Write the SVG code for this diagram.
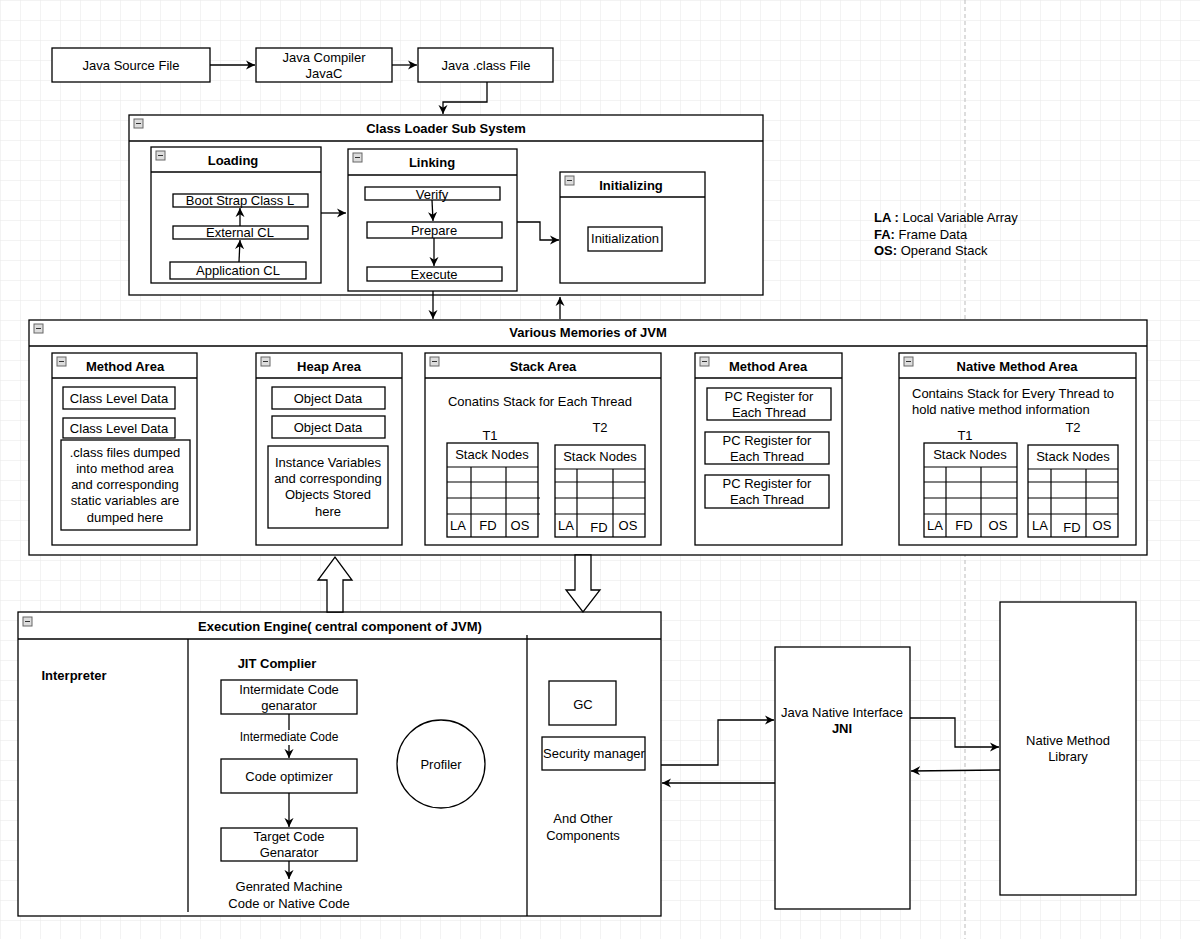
<svg xmlns="http://www.w3.org/2000/svg" width="1200" height="939" viewBox="0 0 1200 939">
<defs>
<pattern id="g" width="20" height="20" patternUnits="userSpaceOnUse"><path d="M20 0H0V20" fill="none" stroke="#e8e8e8" stroke-width="1"/></pattern>
<marker id="a" viewBox="0 0 10 10" refX="10" refY="5" markerWidth="7" markerHeight="7" orient="auto"><path d="M0 0L10 5L0 10L3 5z" fill="#000"/></marker>
<g id="ic"><rect class="i" x="0" y="0" width="9" height="9"/><line x1="2" y1="4.5" x2="7" y2="4.5" stroke="#333"/></g>
</defs>
<style>
text{font-family:"Liberation Sans",Arial,sans-serif;font-size:13px;fill:#000;text-anchor:middle}
.b{font-weight:bold}
.l{text-anchor:start}
rect,circle,ellipse{fill:#fff;stroke:#000;stroke-width:1.3}
rect.bg{fill:url(#g);stroke:none}
rect.i{fill:#ddd;stroke:#666;stroke-width:1}
.c line,.c path,.c polyline{stroke:#000;stroke-width:1.3;fill:none}
.t line{stroke:#000;stroke-width:1.2}
.h{stroke:#000;stroke-width:1.3}
</style>
<rect class="bg" x="0" y="0" width="1200" height="939"/>
<line x1="965" y1="0" x2="965" y2="939" stroke="#bbb" stroke-dasharray="4 3"/>

<g id="src"><rect x="52" y="48" width="158" height="34"/><text x="131" y="70">Java Source File</text></g>
<g id="javac"><rect x="256" y="48" width="136" height="34"/><text x="324" y="62">Java Compiler</text><text x="324" y="78">JavaC</text></g>
<g id="classfile"><rect x="418" y="48" width="135" height="34"/><text x="486" y="70">Java .class File</text></g>

<g id="cls"><rect x="129" y="115" width="634" height="180"/><line class="h" x1="129" y1="141" x2="763" y2="141"/><use href="#ic" x="134" y="119"/><text class="b" x="446" y="133">Class Loader Sub System</text></g>
<g id="loading"><rect x="151" y="147" width="170" height="136"/><line class="h" x1="151" y1="172" x2="321" y2="172"/><use href="#ic" x="156" y="151"/><text class="b" x="233" y="165">Loading</text>
<rect x="173" y="194" width="135" height="13"/><text x="240" y="205">Boot Strap Class L</text>
<rect x="173" y="226" width="135" height="13"/><text x="240" y="237">External CL</text>
<rect x="170" y="262" width="136" height="17"/><text x="238" y="275">Application CL</text></g>
<g id="linking"><rect x="348" y="149" width="169" height="142"/><line class="h" x1="348" y1="175" x2="517" y2="175"/><use href="#ic" x="353" y="153"/><text class="b" x="432" y="167">Linking</text>
<rect x="365" y="187" width="135" height="13"/><text x="432" y="199">Verify</text>
<rect x="367" y="222" width="135" height="16"/><text x="434" y="235">Prepare</text>
<rect x="367" y="267" width="135" height="14"/><text x="434" y="279">Execute</text></g>
<g id="init"><rect x="560" y="172" width="145" height="111"/><line class="h" x1="560" y1="197" x2="705" y2="197"/><use href="#ic" x="565" y="176"/><text class="b" x="631" y="190">Initializing</text>
<rect x="588" y="227" width="74" height="24"/><text x="625" y="243">Initialization</text></g>

<g id="legend"><text class="l" x="874" y="222"><tspan class="b">LA :</tspan> Local Variable Array</text><text class="l" x="874" y="239"><tspan class="b">FA:</tspan> Frame Data</text><text class="l" x="874" y="255"><tspan class="b">OS:</tspan> Operand Stack</text></g>

<g id="mem"><rect x="29" y="320" width="1118" height="235"/><line class="h" x1="29" y1="346" x2="1147" y2="346"/><use href="#ic" x="34" y="324"/><text class="b" x="588" y="337">Various Memories of JVM</text></g>
<g id="method1"><rect x="52" y="353" width="145" height="192"/><line class="h" x1="52" y1="378" x2="197" y2="378"/><use href="#ic" x="57" y="357"/><text class="b" x="125" y="371">Method Area</text>
<rect x="63" y="387" width="112" height="22"/><text x="119" y="403">Class Level Data</text>
<rect x="63" y="418" width="112" height="20"/><text x="119" y="433">Class Level Data</text>
<rect x="61" y="440" width="129" height="90"/><text x="125" y="457">.class files dumped</text><text x="125" y="473">into method area</text><text x="125" y="489">and corresponding</text><text x="125" y="505">static variables are</text><text x="125" y="522">dumped here</text></g>
<g id="heap"><rect x="256" y="353" width="146" height="192"/><line class="h" x1="256" y1="378" x2="402" y2="378"/><use href="#ic" x="261" y="357"/><text class="b" x="329" y="371">Heap Area</text>
<rect x="272" y="387" width="113" height="22"/><text x="328" y="403">Object Data</text>
<rect x="272" y="416" width="113" height="22"/><text x="328" y="432">Object Data</text>
<rect x="268" y="446" width="120" height="82"/><text x="328" y="467">Instance Variables</text><text x="328" y="483">and corresponding</text><text x="328" y="499">Objects Stored</text><text x="328" y="516">here</text></g>
<g id="stack"><rect x="425" y="353" width="236" height="192"/><line class="h" x1="425" y1="378" x2="661" y2="378"/><use href="#ic" x="430" y="357"/><text class="b" x="543" y="371">Stack Area</text>
<text x="540" y="406">Conatins Stack for  Each Thread</text><text x="490" y="440">T1</text><text x="600" y="432">T2</text>
<g class="t"><rect x="447" y="443" width="91" height="94"/><line x1="447" y1="467" x2="538" y2="467"/><line x1="447" y1="482" x2="538" y2="482"/><line x1="447" y1="498" x2="540" y2="498"/><line x1="447" y1="514" x2="540" y2="514"/><line x1="471" y1="467" x2="471" y2="537"/><line x1="506" y1="467" x2="506" y2="537"/>
<rect x="555" y="445" width="90" height="92"/><line x1="555" y1="469" x2="645" y2="469"/><line x1="555" y1="482" x2="645" y2="482"/><line x1="555" y1="498" x2="645" y2="498"/><line x1="555" y1="514" x2="645" y2="514"/><line x1="577" y1="469" x2="577" y2="537"/><line x1="613" y1="469" x2="613" y2="537"/></g>
<text x="492" y="459">Stack Nodes</text><text x="600" y="461">Stack Nodes</text>
<text x="458" y="530">LA</text><text x="488" y="530">FD</text><text x="520" y="530">OS</text><text x="566" y="530">LA</text><text x="599" y="532">FD</text><text x="628" y="530">OS</text></g>
<g id="pc"><rect x="695" y="353" width="147" height="192"/><line class="h" x1="695" y1="378" x2="842" y2="378"/><use href="#ic" x="700" y="357"/><text class="b" x="768" y="371">Method Area</text>
<rect x="707" y="388" width="124" height="32"/><text x="769" y="401">PC Register for</text><text x="769" y="417">Each Thread</text>
<rect x="705" y="432" width="124" height="32"/><text x="767" y="445">PC Register for</text><text x="767" y="461">Each Thread</text>
<rect x="705" y="475" width="124" height="33"/><text x="767" y="488">PC Register for</text><text x="767" y="504">Each Thread</text></g>
<g id="native"><rect x="899" y="353" width="237" height="192"/><line class="h" x1="899" y1="378" x2="1136" y2="378"/><use href="#ic" x="904" y="357"/><text class="b" x="1017" y="371">Native Method Area</text>
<text class="l" x="912" y="398">Contains Stack for Every Thread to</text><text class="l" x="912" y="414">hold native method information</text><text x="965" y="440">T1</text><text x="1073" y="432">T2</text>
<g class="t"><rect x="924" y="443" width="93" height="94"/><line x1="924" y1="467" x2="1017" y2="467"/><line x1="924" y1="482" x2="1017" y2="482"/><line x1="924" y1="498" x2="1017" y2="498"/><line x1="924" y1="514" x2="1017" y2="514"/><line x1="946" y1="467" x2="946" y2="537"/><line x1="981" y1="467" x2="981" y2="537"/>
<rect x="1028" y="445" width="90" height="92"/><line x1="1028" y1="469" x2="1118" y2="469"/><line x1="1028" y1="482" x2="1118" y2="482"/><line x1="1028" y1="498" x2="1118" y2="498"/><line x1="1028" y1="514" x2="1118" y2="514"/><line x1="1051" y1="469" x2="1051" y2="537"/><line x1="1086" y1="469" x2="1086" y2="537"/></g>
<text x="970" y="459">Stack Nodes</text><text x="1073" y="461">Stack Nodes</text>
<text x="935" y="530">LA</text><text x="964" y="530">FD</text><text x="998" y="530">OS</text><text x="1040" y="530">LA</text><text x="1072" y="532">FD</text><text x="1102" y="530">OS</text></g>

<g id="exec"><rect x="18" y="612" width="643" height="304"/><line class="h" x1="18" y1="639" x2="661" y2="639"/><use href="#ic" x="23" y="617"/><text class="b" x="340" y="631">Execution Engine( central component of JVM)</text>
<line class="h" x1="188" y1="639" x2="188" y2="912"/><line class="h" x1="527" y1="635" x2="527" y2="916"/>
<text class="b" x="74" y="680">Interpreter</text><text class="b" x="277" y="668">JIT Complier</text>
<rect x="221" y="680" width="136" height="34"/><text x="289" y="694">Intermidate Code</text><text x="289" y="710">genarator</text>
<text x="289" y="741" style="font-size:12px">Intermediate Code</text>
<rect x="221" y="759" width="136" height="34"/><text x="289" y="781">Code optimizer</text>
<rect x="221" y="828" width="136" height="33"/><text x="289" y="841">Target Code</text><text x="289" y="857">Genarator</text>
<text x="289" y="891">Genrated Machine</text><text x="289" y="908">Code or Native Code</text>
<ellipse cx="441" cy="764" rx="44" ry="44"/><text x="441" y="769">Profiler</text>
<rect x="549" y="681" width="67" height="44"/><text x="583" y="709">GC</text>
<rect x="542" y="737" width="103" height="33"/><text x="594" y="758">Security manager</text>
<text x="583" y="823">And Other</text><text x="583" y="840">Components</text></g>
<g id="jni"><rect x="775" y="647" width="135" height="262"/><text x="842" y="717">Java Native Interface</text><text class="b" x="842" y="733">JNI</text></g>
<g id="lib"><rect x="1000" y="602" width="136" height="293"/><text x="1068" y="745">Native Method</text><text x="1068" y="761">Library</text></g>

<g id="connectors" class="c">
<line x1="210" y1="65" x2="255" y2="65" marker-end="url(#a)"/>
<line x1="392" y1="65" x2="417" y2="65" marker-end="url(#a)"/>
<polyline points="487,82 487,102 443,102 443,114" marker-end="url(#a)"/>
<line x1="240" y1="226" x2="240" y2="208" marker-end="url(#a)"/>
<line x1="239" y1="262" x2="240" y2="240" marker-end="url(#a)"/>
<line x1="321" y1="213" x2="346" y2="213" marker-end="url(#a)"/>
<line x1="432" y1="200" x2="433" y2="221" marker-end="url(#a)"/>
<line x1="434" y1="238" x2="434" y2="266" marker-end="url(#a)"/>
<polyline points="517,222 540,222 540,240 559,240" marker-end="url(#a)"/>
<line x1="433" y1="291" x2="433" y2="319" marker-end="url(#a)"/>
<line x1="560" y1="319" x2="560" y2="297" marker-end="url(#a)"/>
<path d="M327 612V580H318L335 557L352 580H343V612Z" style="fill:#fff"/>
<path d="M575 555V590H566L583 612L600 590H591V555Z" style="fill:#fff"/>
<line x1="289" y1="714" x2="289" y2="730"/>
<line x1="289" y1="745" x2="289" y2="758" marker-end="url(#a)"/>
<line x1="289" y1="793" x2="289" y2="827" marker-end="url(#a)"/>
<line x1="289" y1="861" x2="289" y2="879" marker-end="url(#a)"/>
<polyline points="661,765 718,765 718,720 774,720" marker-end="url(#a)"/>
<line x1="775" y1="783" x2="662" y2="783" marker-end="url(#a)"/>
<polyline points="910,718 955,718 955,747 999,747" marker-end="url(#a)"/>
<line x1="1000" y1="770" x2="911" y2="771" marker-end="url(#a)"/>
</g>
</svg>
